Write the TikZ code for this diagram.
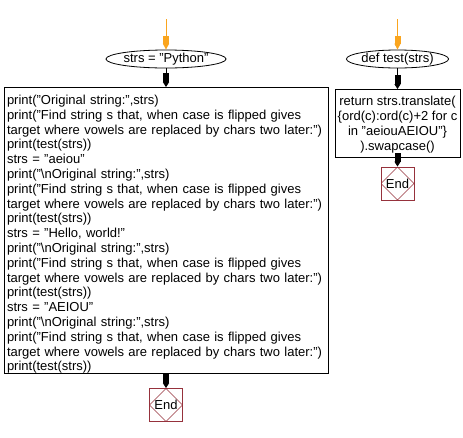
\documentclass[tikz,border=0pt]{standalone}
\usepackage{fontspec}
\setmainfont{Liberation Sans}
\usepackage{tikz}
\usetikzlibrary{
  shapes.geometric,      % Ellipse nodes
  positioning            % Relative placement
}
\usetikzlibrary{arrows.meta}

\definecolor{flowarrow}{RGB}{250,165,30}
\definecolor{endred}{RGB}{150,50,60}

\tikzset{
  every node/.style={font=\fontsize{13pt}{14.8pt}\selectfont, inner sep=0pt},
  startell/.style={ellipse, draw, line width=0.8pt, minimum width=#1, minimum height=18pt},
  codebox/.style={rectangle, draw, line width=0.8pt},
  endbox/.style={rectangle, draw=endred, line width=0.8pt, minimum size=33pt,
    path picture={\draw[endred, line width=0.6pt]
      (path picture bounding box.north) -- (path picture bounding box.east) --
      (path picture bounding box.south) -- (path picture bounding box.west) -- cycle;}},
  inarrow/.style={draw=flowarrow, line width=1pt,
    -{Rectangle[width=6pt,length=8pt,sep=0pt] Triangle[width=6pt,length=6pt]}},
  flowline/.style={draw=black, line width=1pt,
    -{Rectangle[width=6pt,length=9pt,sep=0pt] Triangle[width=6pt,length=5pt]}}
}

\begin{document}
\begin{tikzpicture}[x=1pt, y=-1pt]
            \useasboundingbox (0,0) rectangle (463,437);
            % main program
            \coordinate (mainin) at (166,19);
            \node[startell=106pt] (strs) at (166,59) {strs = "Python"};
            \node[codebox, minimum width=324pt, minimum height=283pt, text width=318pt, align=left] (calls) at (166,230.5) {%
\rule{0pt}{17pt}print("Original string:",strs)\\
print("Find string s that, when case is flipped gives\\
target where vowels are replaced by chars two later:")\\
print(test(strs))\\
strs = "aeiou"\\
print("\textbackslash nOriginal string:",strs)\\
print("Find string s that, when case is flipped gives\\
target where vowels are replaced by chars two later:")\\
print(test(strs))\\
strs = "Hello, world!"\\
print("\textbackslash nOriginal string:",strs)\\
print("Find string s that, when case is flipped gives\\
target where vowels are replaced by chars two later:")\\
print(test(strs))\\
strs = "AEIOU"\\
print("\textbackslash nOriginal string:",strs)\\
print("Find string s that, when case is flipped gives\\
target where vowels are replaced by chars two later:")\\
print(test(strs))};
            \node[endbox] (mainend) at (166,405) {End};
            % function test
            \coordinate (testin) at (397.5,19);
            \node[startell=90pt] (deftest) at (397.5,59) {def test(strs)};
            \node[codebox, minimum width=125pt, minimum height=68pt, align=center] (ret) at (397.5,123.5) {\rule{0pt}{12pt}return strs.translate(\\
{\{}ord(c):ord(c)+2 for c\\
in "aeiouAEIOU"{\}}\\
).swapcase()};
            \node[endbox] (testend) at (397.5,183.5) {End};
            \draw[inarrow] (mainin) -- (strs);
            \draw[flowline] (strs) -- (calls);
            \draw[flowline] (calls) -- (mainend);
            \draw[inarrow] (testin) -- (deftest);
            \draw[flowline] (deftest) -- (ret);
            \draw[flowline] (ret) -- (testend);
        \end{tikzpicture}
\end{document}
